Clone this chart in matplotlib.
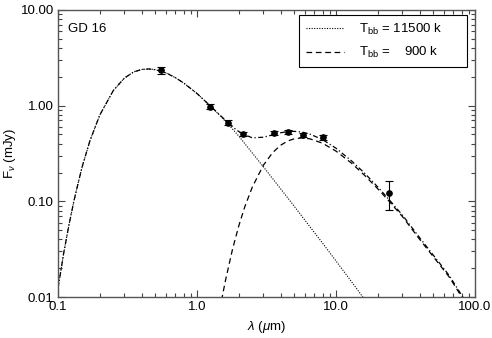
import matplotlib
matplotlib.use("Agg")
import matplotlib.pyplot as plt
from matplotlib.lines import Line2D

plt.rcParams['font.family'] = ['Liberation Sans', 'DejaVu Sans']
plt.rcParams['mathtext.fontset'] = 'custom'
plt.rcParams['mathtext.rm'] = 'Liberation Sans'
plt.rcParams['mathtext.it'] = 'Liberation Sans:italic'

# photometry of GD 16 (wavelength in micron, flux in mJy)
obs_wave = [0.55, 1.235, 1.66, 2.16, 3.6, 4.5, 5.8, 8.0, 24.0]
obs_flux = [2.36, 0.98, 0.665, 0.505, 0.52, 0.527, 0.495, 0.465, 0.122]
obs_err = [0.2, 0.05, 0.035, 0.025, 0.025, 0.025, 0.025, 0.025, 0.041]

# hot blackbody (11500 k)
hot_wave = [0.10, 0.11, 0.12, 0.13, 0.14, 0.15, 0.17, 0.20, 0.25, 0.30, 0.35, 0.40,
            0.45, 0.50, 0.60, 0.70, 0.80, 1.0, 1.25, 1.5, 1.8, 2.0, 2.5, 3.0, 4.0,
            5.0, 6.0, 8.0, 10.0, 13.0, 16.0]
hot_flux = [0.0123, 0.029, 0.057, 0.100, 0.158, 0.236, 0.433, 0.80, 1.44, 1.94, 2.25, 2.39,
            2.42, 2.38, 2.20, 1.96, 1.73, 1.34, 0.99, 0.76, 0.571, 0.48, 0.32, 0.23, 0.135,
            0.089, 0.063, 0.0366, 0.0238, 0.0143, 0.0095]

# cold blackbody (900 k)
cold_wave = [1.5, 1.6, 1.8, 2.0, 2.2, 2.5, 3.0, 3.5, 4.0, 4.5, 5.0, 5.7, 6.5, 8.0, 10.0,
             13.0, 16.0, 20.0, 24.0, 30.0, 40.0, 50.0, 65.0, 80.0, 100.0]
cold_flux = [0.0092, 0.0147, 0.0315, 0.0557, 0.0866, 0.141, 0.238, 0.323, 0.386, 0.428,
             0.450, 0.460, 0.450, 0.405, 0.335, 0.249, 0.188, 0.135, 0.101, 0.0695, 0.040,
             0.0265, 0.0163, 0.0101, 0.0065]

# sum of both
tot_wave = [0.10, 0.11, 0.12, 0.13, 0.14, 0.15, 0.17, 0.20, 0.25, 0.30, 0.35, 0.40,
            0.45, 0.50, 0.60, 0.70, 0.80, 1.0, 1.25, 1.5, 1.8, 2.0, 2.2, 2.5, 3.0, 3.5,
            4.0, 4.5, 5.0, 5.7, 6.5, 8.0, 10.0, 13.0, 16.0, 20.0, 24.0, 30.0, 40.0,
            50.0, 65.0, 80.0, 100.0]
tot_flux = [0.0123, 0.029, 0.057, 0.100, 0.158, 0.236, 0.433, 0.80, 1.44, 1.94, 2.25, 2.39,
            2.42, 2.38, 2.20, 1.96, 1.73, 1.34, 0.99, 0.77, 0.60, 0.536, 0.497, 0.461, 0.468,
            0.495, 0.521, 0.537, 0.539, 0.53, 0.504, 0.442, 0.359, 0.263, 0.198, 0.141,
            0.105, 0.072, 0.0416, 0.0275, 0.0169, 0.0105, 0.0068]

fig = plt.figure(figsize=(4.92, 3.38), dpi=100)
ax = fig.add_axes([58 / 492, 1 - 297 / 338, 417 / 492, 287 / 338])

ax.plot(tot_wave, tot_flux, color='black', lw=0.9, ls=(0, (4, 2, 1, 2)))
ax.plot(hot_wave, hot_flux, color='black', lw=0.8, ls=(0, (1, 1.3)))
ax.plot(cold_wave, cold_flux, color='black', lw=0.9, ls=(0, (4.5, 3)))
ax.errorbar(obs_wave, obs_flux, yerr=obs_err, fmt='o', color='black', ms=3.8,
            capsize=3, elinewidth=0.8, capthick=0.8)

ax.set_xscale('log')
ax.set_yscale('log')
ax.set_xlim(0.1, 100)
ax.set_ylim(0.01, 10)
ax.set_xticks([0.1, 1, 10, 100])
ax.set_xticklabels(['0.1', '1.0', '10.0', '100.0'])
ax.set_yticks([0.01, 0.1, 1, 10])
ax.set_yticklabels(['0.01', '0.10', '1.00', '10.00'])
ax.tick_params(which='both', direction='in', top=True, right=True,
               color='#444444', labelsize=9.5, width=0.8)
ax.tick_params(which='major', length=5, pad=3)
ax.tick_params(which='minor', length=2.8)
for s in ax.spines.values():
    s.set_color('#555555')
    s.set_linewidth(1.0)

ax.set_xlabel(r'$\lambda$ ($\mathit{\mu}$m)', fontsize=9.5, labelpad=4)
ax.set_ylabel(r'F$_\nu$ (mJy)', fontsize=9.5, labelpad=2)
ax.text(0.025, 0.955, 'GD 16', transform=ax.transAxes, fontsize=9.5, va='top')

handles = [Line2D([], [], color='black', lw=0.8, ls=(0, (1, 1.3))),
           Line2D([], [], color='black', lw=0.9, ls=(0, (4.5, 3)))]
labels = [r'T$_{\rm bb}$ = 11500 k      ', r'T$_{\rm bb}$ =    900 k      ']
leg = ax.legend(handles, labels, loc='upper right', bbox_to_anchor=(467 / 492, 1 - 15 / 338),
                bbox_transform=fig.transFigure, borderaxespad=0, fontsize=9.5,
                fancybox=False, framealpha=1, edgecolor='black', handlelength=2.9,
                borderpad=0.5, labelspacing=0.65, handletextpad=1.1)
leg.get_frame().set_linewidth(0.8)

fig.savefig('out.png', dpi=100)
